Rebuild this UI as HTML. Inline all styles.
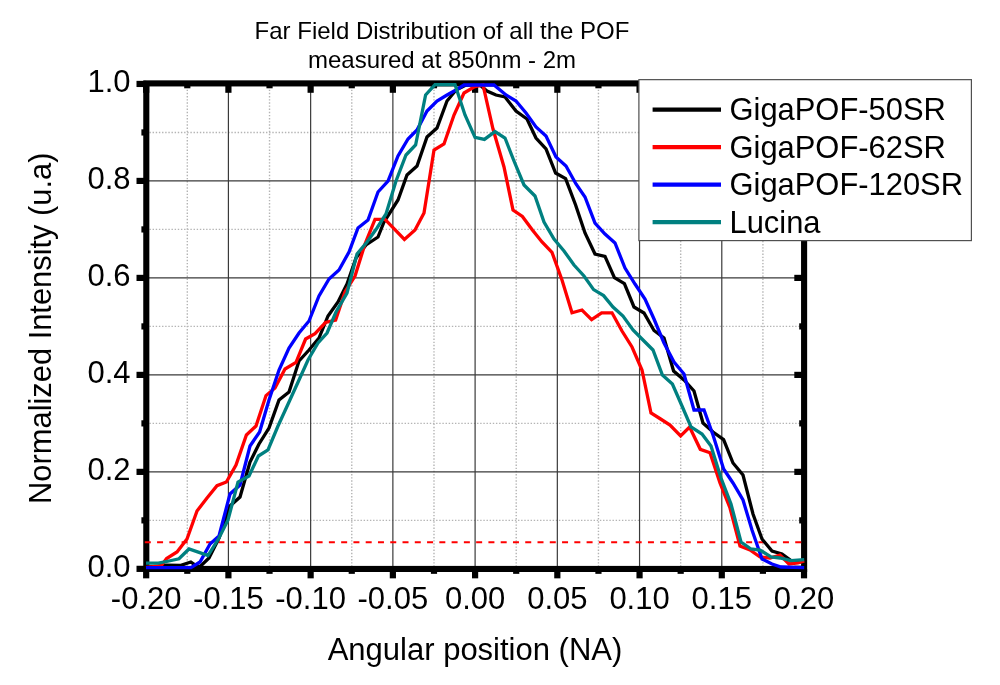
<!DOCTYPE html>
<html><head><meta charset="utf-8"><title>Far Field Distribution of all the POF</title>
<style>
html,body{margin:0;padding:0;background:#fff}
svg{display:block}
text{font-family:"Liberation Sans",Arial,sans-serif;fill:#000}
.tk{font-size:31px}
.al{font-size:31px}
.tt{font-size:24px}
.lg{font-size:30.9px}
.c{fill:none;stroke-width:3.3;stroke-linejoin:miter;stroke-linecap:butt}
</style></head><body>
<svg width="1000" height="685" viewBox="0 0 1000 685">
<rect x="0" y="0" width="1000" height="685" fill="#fff"/>

<g stroke="#b4b4b4" stroke-width="1.4" stroke-dasharray="1.4 1.75" fill="none">
<line x1="187.30" y1="83.40" x2="187.30" y2="568.95"/>
<line x1="269.53" y1="83.40" x2="269.53" y2="568.95"/>
<line x1="351.76" y1="83.40" x2="351.76" y2="568.95"/>
<line x1="433.99" y1="83.40" x2="433.99" y2="568.95"/>
<line x1="516.22" y1="83.40" x2="516.22" y2="568.95"/>
<line x1="598.45" y1="83.40" x2="598.45" y2="568.95"/>
<line x1="680.68" y1="83.40" x2="680.68" y2="568.95"/>
<line x1="762.91" y1="83.40" x2="762.91" y2="568.95"/>
<line x1="146.30" y1="520.36" x2="804.10" y2="520.36"/>
<line x1="146.30" y1="423.38" x2="804.10" y2="423.38"/>
<line x1="146.30" y1="326.40" x2="804.10" y2="326.40"/>
<line x1="146.30" y1="229.42" x2="804.10" y2="229.42"/>
<line x1="146.30" y1="132.44" x2="804.10" y2="132.44"/>
</g>
<g stroke="#3a3a3a" stroke-width="1.2" fill="none">
<line x1="228.41" y1="83.40" x2="228.41" y2="568.95"/>
<line x1="310.64" y1="83.40" x2="310.64" y2="568.95"/>
<line x1="392.87" y1="83.40" x2="392.87" y2="568.95"/>
<line x1="475.10" y1="83.40" x2="475.10" y2="568.95"/>
<line x1="557.33" y1="83.40" x2="557.33" y2="568.95"/>
<line x1="639.56" y1="83.40" x2="639.56" y2="568.95"/>
<line x1="721.79" y1="83.40" x2="721.79" y2="568.95"/>
<line x1="146.30" y1="471.87" x2="804.10" y2="471.87"/>
<line x1="146.30" y1="374.89" x2="804.10" y2="374.89"/>
<line x1="146.30" y1="277.91" x2="804.10" y2="277.91"/>
<line x1="146.30" y1="180.93" x2="804.10" y2="180.93"/>
</g>
<g stroke="#000" fill="none" stroke-linecap="butt">
<rect x="146.30" y="83.40" width="657.80" height="485.55" stroke-width="6.1"/>
<line x1="146.18" y1="568.95" x2="146.18" y2="578.35" stroke-width="6.2"/>
<line x1="146.18" y1="83.40" x2="146.18" y2="92.80" stroke-width="6.2"/>
<line x1="228.41" y1="568.95" x2="228.41" y2="578.35" stroke-width="6.2"/>
<line x1="228.41" y1="83.40" x2="228.41" y2="92.80" stroke-width="6.2"/>
<line x1="310.64" y1="568.95" x2="310.64" y2="578.35" stroke-width="6.2"/>
<line x1="310.64" y1="83.40" x2="310.64" y2="92.80" stroke-width="6.2"/>
<line x1="392.87" y1="568.95" x2="392.87" y2="578.35" stroke-width="6.2"/>
<line x1="392.87" y1="83.40" x2="392.87" y2="92.80" stroke-width="6.2"/>
<line x1="475.10" y1="568.95" x2="475.10" y2="578.35" stroke-width="6.2"/>
<line x1="475.10" y1="83.40" x2="475.10" y2="92.80" stroke-width="6.2"/>
<line x1="557.33" y1="568.95" x2="557.33" y2="578.35" stroke-width="6.2"/>
<line x1="557.33" y1="83.40" x2="557.33" y2="92.80" stroke-width="6.2"/>
<line x1="639.56" y1="568.95" x2="639.56" y2="578.35" stroke-width="6.2"/>
<line x1="639.56" y1="83.40" x2="639.56" y2="92.80" stroke-width="6.2"/>
<line x1="721.79" y1="568.95" x2="721.79" y2="578.35" stroke-width="6.2"/>
<line x1="721.79" y1="83.40" x2="721.79" y2="92.80" stroke-width="6.2"/>
<line x1="804.02" y1="568.95" x2="804.02" y2="578.35" stroke-width="6.2"/>
<line x1="804.02" y1="83.40" x2="804.02" y2="92.80" stroke-width="6.2"/>
<line x1="187.30" y1="568.95" x2="187.30" y2="573.85" stroke-width="6.2"/>
<line x1="187.30" y1="83.40" x2="187.30" y2="88.30" stroke-width="6.2"/>
<line x1="269.53" y1="568.95" x2="269.53" y2="573.85" stroke-width="6.2"/>
<line x1="269.53" y1="83.40" x2="269.53" y2="88.30" stroke-width="6.2"/>
<line x1="351.76" y1="568.95" x2="351.76" y2="573.85" stroke-width="6.2"/>
<line x1="351.76" y1="83.40" x2="351.76" y2="88.30" stroke-width="6.2"/>
<line x1="433.99" y1="568.95" x2="433.99" y2="573.85" stroke-width="6.2"/>
<line x1="433.99" y1="83.40" x2="433.99" y2="88.30" stroke-width="6.2"/>
<line x1="516.22" y1="568.95" x2="516.22" y2="573.85" stroke-width="6.2"/>
<line x1="516.22" y1="83.40" x2="516.22" y2="88.30" stroke-width="6.2"/>
<line x1="598.45" y1="568.95" x2="598.45" y2="573.85" stroke-width="6.2"/>
<line x1="598.45" y1="83.40" x2="598.45" y2="88.30" stroke-width="6.2"/>
<line x1="680.68" y1="568.95" x2="680.68" y2="573.85" stroke-width="6.2"/>
<line x1="680.68" y1="83.40" x2="680.68" y2="88.30" stroke-width="6.2"/>
<line x1="762.91" y1="568.95" x2="762.91" y2="573.85" stroke-width="6.2"/>
<line x1="762.91" y1="83.40" x2="762.91" y2="88.30" stroke-width="6.2"/>
<line x1="136.50" y1="568.85" x2="146.30" y2="568.85" stroke-width="6.2"/>
<line x1="794.30" y1="568.85" x2="804.10" y2="568.85" stroke-width="6.2"/>
<line x1="136.50" y1="471.87" x2="146.30" y2="471.87" stroke-width="6.2"/>
<line x1="794.30" y1="471.87" x2="804.10" y2="471.87" stroke-width="6.2"/>
<line x1="136.50" y1="374.89" x2="146.30" y2="374.89" stroke-width="6.2"/>
<line x1="794.30" y1="374.89" x2="804.10" y2="374.89" stroke-width="6.2"/>
<line x1="136.50" y1="277.91" x2="146.30" y2="277.91" stroke-width="6.2"/>
<line x1="794.30" y1="277.91" x2="804.10" y2="277.91" stroke-width="6.2"/>
<line x1="136.50" y1="180.93" x2="146.30" y2="180.93" stroke-width="6.2"/>
<line x1="794.30" y1="180.93" x2="804.10" y2="180.93" stroke-width="6.2"/>
<line x1="136.50" y1="83.95" x2="146.30" y2="83.95" stroke-width="6.2"/>
<line x1="794.30" y1="83.95" x2="804.10" y2="83.95" stroke-width="6.2"/>
<line x1="141.40" y1="520.36" x2="146.30" y2="520.36" stroke-width="6.2"/>
<line x1="799.20" y1="520.36" x2="804.10" y2="520.36" stroke-width="6.2"/>
<line x1="141.40" y1="423.38" x2="146.30" y2="423.38" stroke-width="6.2"/>
<line x1="799.20" y1="423.38" x2="804.10" y2="423.38" stroke-width="6.2"/>
<line x1="141.40" y1="326.40" x2="146.30" y2="326.40" stroke-width="6.2"/>
<line x1="799.20" y1="326.40" x2="804.10" y2="326.40" stroke-width="6.2"/>
<line x1="141.40" y1="229.42" x2="146.30" y2="229.42" stroke-width="6.2"/>
<line x1="799.20" y1="229.42" x2="804.10" y2="229.42" stroke-width="6.2"/>
<line x1="141.40" y1="132.44" x2="146.30" y2="132.44" stroke-width="6.2"/>
<line x1="799.20" y1="132.44" x2="804.10" y2="132.44" stroke-width="6.2"/>
</g>
<line x1="144.8" y1="542.3" x2="801.60" y2="542.3" stroke="#ff0000" stroke-width="2.1" stroke-dasharray="6 6.272"/>
<polyline class="c" stroke="#000000" points="146,567.2 158,566.2 166,565.2 181,565.3 190.8,562 196,565.6 200,566.6 209,558 219,538 230,506 240,497 250,462 259,444 269,428 279,400 289,392 299,361 309,350 319,338 328,316 338,302 347,284 356,258 366,245 378,237 384,222 398,200 407,175 417,166 427,137 437,128 447,101 456,90 466,85 476,84.5 481,86 487,91 496,95 505,97 516,111 527,119 536,138 546,149 555.6,173 565.6,178.6 575.6,205 585,233 595,254 605,256.4 614.4,277.6 624.4,283.6 634,307 644,313 654,330.5 664,338 673.6,371 684,380 694,391 703,423 713,432 723.6,439.6 733,463 743,475 753,514 762,539 772,551 782,554 791,560.6 804.2,562"/>
<polyline class="c" stroke="#ff0000" points="146,567.4 161,566 166.6,558.6 177,552 187,539 197,511 207,498 217,485.6 226.4,482 236,465 246.4,435 256,426 266,395.6 275,388 285,369 296,362.4 305.6,339 315,333.6 325.5,322.5 335.6,320 345,292 355,276 365,244 375,219.4 385,219.4 394.7,229.4 404.4,239.4 415,230 424,213 434,150 444,144 454,115 464,93 474,87 483,85 493,129 504,167 513,210 522.4,216.4 532.4,230 542,242 552,252.4 562,280 572,312.8 582,310 591.6,319.6 601.6,312.8 612,312.8 622,331 632,347 642,370 651,413 660.6,419 670,425 680.6,436 689.6,427 700.3,449.3 710,452.7 720,483 730,508 740,546 750,550 760,557 770,558 780,555 789,564 798,563 804.2,561"/>
<polyline class="c" stroke="#0000ff" points="146,567.6 191,567.6 200,562 210,544 219,536 230,494 240,485 250,446 259.6,432 269,400 279,370 289,348 299,333 309,321 319,296 329,279 339,270 349,252 358,228 368,220 378,192 388,181 398,156 408,139 417,130 427,111 437,101 447,95 456,90 464,85 494,85 506,95 516,101 526,113 536,127 546,136 556,157 566,166 576,184 585,197 595,223 605,234 615,243 625,268 635,284 645,299 654,319 664,343 674,362 684,374 694,410 704,410 713,435 723.6,469 733,483 743,500 752,530 762,559 772,564 781,567 804.2,567.6"/>
<polyline class="c" stroke="#008080" points="146,563.2 158.4,563.2 169,561 179,558.8 189,549 199,552.4 208,555.6 219,538 228,520 238,482 249,476 258.4,456 268,450 278,426 289,402 299,380 308,360 318,343 327,333 336,312 347,293 357,254 367,242 377,228 386,214 396,181 406,155 415.6,145 425.6,95 435,84.6 455,84.6 465,115 475,137.4 484.4,139.4 495,131.6 505,138 514,161 524,185 535,196 544,222 554,239 564,251 574,265 584,276 593.6,289.6 603.6,295.6 613,307 623,316 633,330 642,339 653,350 662.4,375 672.4,384 682,406 691,427 702,434 711,446 721,478 731,504 741,542 751,549 760,550 771,557 780,558 791,560.6 804.2,559.6"/>
<rect x="638.9" y="79.65" width="332.5" height="160.95" fill="#fff" stroke="#505050" stroke-width="1.2"/>
<line x1="652.6" y1="109.65" x2="721" y2="109.65" stroke="#000000" stroke-width="4.1"/>
<text class="lg" x="729.5" y="120.20">GigaPOF-50SR</text>
<line x1="652.6" y1="147.15" x2="721" y2="147.15" stroke="#ff0000" stroke-width="4.1"/>
<text class="lg" x="729.5" y="157.75">GigaPOF-62SR</text>
<line x1="652.6" y1="184.65" x2="721" y2="184.65" stroke="#0000ff" stroke-width="4.1"/>
<text class="lg" x="729.5" y="195.30">GigaPOF-120SR</text>
<line x1="652.6" y1="222.15" x2="721" y2="222.15" stroke="#008080" stroke-width="4.1"/>
<text class="lg" x="729.5" y="232.85">Lucina</text>
<text class="tk" text-anchor="middle" x="146.18" y="609.2">-0.20</text>
<text class="tk" text-anchor="middle" x="228.41" y="609.2">-0.15</text>
<text class="tk" text-anchor="middle" x="310.64" y="609.2">-0.10</text>
<text class="tk" text-anchor="middle" x="392.87" y="609.2">-0.05</text>
<text class="tk" text-anchor="middle" x="475.10" y="609.2">0.00</text>
<text class="tk" text-anchor="middle" x="557.33" y="609.2">0.05</text>
<text class="tk" text-anchor="middle" x="639.56" y="609.2">0.10</text>
<text class="tk" text-anchor="middle" x="721.79" y="609.2">0.15</text>
<text class="tk" text-anchor="middle" x="804.02" y="609.2">0.20</text>
<text class="tk" text-anchor="end" x="130.6" y="577.35">0.0</text>
<text class="tk" text-anchor="end" x="130.6" y="480.37">0.2</text>
<text class="tk" text-anchor="end" x="130.6" y="383.39">0.4</text>
<text class="tk" text-anchor="end" x="130.6" y="286.41">0.6</text>
<text class="tk" text-anchor="end" x="130.6" y="189.43">0.8</text>
<text class="tk" text-anchor="end" x="130.6" y="92.45">1.0</text>
<text class="tt" text-anchor="middle" x="442" y="38.6">Far Field Distribution of all the POF</text>
<text class="tt" text-anchor="middle" x="442" y="68.2">measured at 850nm - 2m</text>
<text class="al" text-anchor="middle" x="475" y="660.4">Angular position (NA)</text>
<text class="al" style="font-size:30.85px" text-anchor="middle" transform="translate(50.7,328.2) rotate(-90)">Normalized Intensity (u.a)</text>
</svg>
</body></html>
